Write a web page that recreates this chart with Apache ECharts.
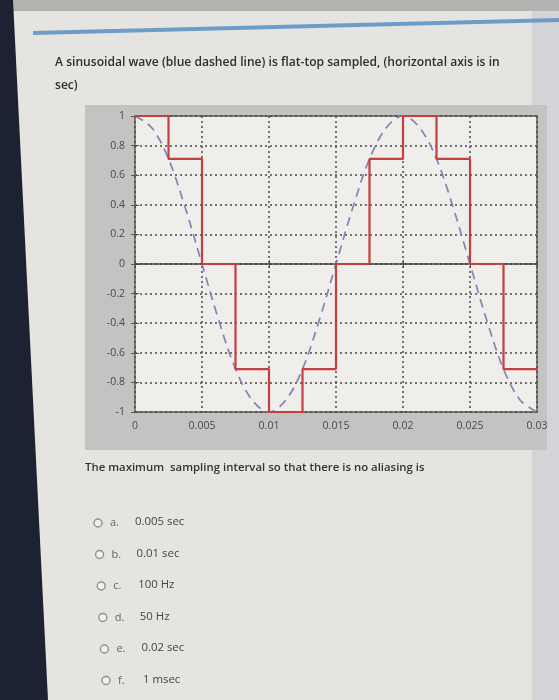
<!DOCTYPE html>
<html>
<head>
<meta charset="utf-8">
<script src="https://cdn.jsdelivr.net/npm/echarts@6/dist/echarts.min.js"></script>
<style>
html,body{margin:0;padding:0;background:#e6e4e1;}
#chart{width:559px;height:700px;}
</style>
</head>
<body>
<div id="chart"></div>
<script>
// ---- data ----
const sampleTimes = [0, 0.0025, 0.005, 0.0075, 0.01, 0.0125, 0.015, 0.0175, 0.02, 0.0225, 0.025, 0.0275, 0.03];
const sampleValues = [1, 0.71, 0, -0.71, -1, -0.71, 0, 0.71, 1, 0.71, 0, -0.71, -0.71];
const waveTimes = [0, 0.00125, 0.0025, 0.00375, 0.005, 0.00625, 0.0075, 0.00875, 0.01, 0.01125, 0.0125, 0.01375, 0.015,
                   0.01625, 0.0175, 0.01875, 0.02, 0.02125, 0.0225, 0.02375, 0.025, 0.02625, 0.0275, 0.02875, 0.03];
const waveValues = [1, 0.92, 0.71, 0.38, 0, -0.38, -0.71, -0.92, -1, -0.92, -0.71, -0.38, 0,
                    0.38, 0.71, 0.92, 1, 0.92, 0.71, 0.38, 0, -0.38, -0.71, -0.92, -1];
const xTicks = ['0', '0.005', '0.01', '0.015', '0.02', '0.025', '0.03'];
const yTicks = ['-1', '-0.8', '-0.6', '-0.4', '-0.2', '0', '0.2', '0.4', '0.6', '0.8', '1'];
const titleLines = ['A sinusoidal wave (blue dashed line) is flat-top sampled, (horizontal axis is in', 'sec)'];
const question = 'The maximum  sampling interval so that there is no aliasing is';
const optionLetters = ['a.', 'b.', 'c.', 'd.', 'e.', 'f.'];
const optionTexts = ['0.005 sec', '0.01 sec', '100 Hz', '50 Hz', '0.02 sec', '1 msec'];

const chart = echarts.init(document.getElementById('chart'), null, {renderer: 'canvas'});
const FONT = '"Open Sans", sans-serif';

const graphics = [
  {type: 'rect', z: -100, shape: {x: 0, y: 0, width: 559, height: 700}, style: {fill: '#e6e4e1'}},
  {type: 'rect', z: -99, shape: {x: 0, y: 0, width: 559, height: 11}, style: {fill: '#b4b3b1'}},
  {type: 'rect', z: -99, shape: {x: 532, y: 11, width: 27, height: 689}, style: {fill: '#d3d4d8'}},
  {type: 'polygon', z: -98, shape: {points: [[0, 0], [13, 0], [48, 700], [0, 700]]}, style: {fill: '#1d2232'}},
  {type: 'line', z: -97, shape: {x1: 33, y1: 33, x2: 559, y2: 20}, style: {stroke: '#6f9cc6', lineWidth: 4}},
  {type: 'rect', z: -90, shape: {x: 85, y: 105, width: 462, height: 345}, style: {fill: '#c4c3c1'}}
];
titleLines.forEach((t, i) => graphics.push({
  type: 'text', z: 10, left: 55, top: 57 + i * 23,
  style: {text: t, fill: '#2e2e2e', font: '600 12.1px ' + FONT}
}));
graphics.push({type: 'text', z: 10, left: 85, top: 462,
  style: {text: question, fill: '#333', font: '600 11.4px ' + FONT}});
optionTexts.forEach((t, i) => {
  const y = 523 + i * 31.5;
  const cx = 98 + i * 1.6;
  graphics.push({type: 'circle', z: 10, shape: {cx: cx, cy: y, r: 4},
    style: {fill: '#f2f1ef', stroke: '#8f8f8f', lineWidth: 1.4}});
  graphics.push({type: 'text', z: 10, x: cx + 12, y: y, style: {text: optionLetters[i], fill: '#666', font: '11px ' + FONT, verticalAlign: 'middle'}});
  graphics.push({type: 'text', z: 10, x: cx + 37, y: y - 1, style: {text: t, fill: '#444', font: '11.4px ' + FONT, verticalAlign: 'middle'}});
});

const dotted = {show: true, lineStyle: {color: '#4a4a4a', type: [2, 3], width: 1.5}};

chart.setOption({
  animation: false,
  graphic: graphics,
  grid: {left: 135, right: 22, top: 116, bottom: 288, show: true, backgroundColor: '#f0eeeb', borderColor: '#555', borderWidth: 1.4},
  xAxis: [{
    type: 'value', min: 0, max: 0.03, interval: 0.005,
    axisLine: {show: false},
    axisTick: {show: true, inside: true, length: 4, lineStyle: {color: '#555'}},
    splitLine: dotted,
    axisLabel: {color: '#4a4a4a', fontSize: 10.5, fontFamily: FONT, margin: 9,
      formatter: v => xTicks[Math.round(v / 0.005)]}
  }, {
    type: 'value', position: 'top', min: 0, max: 0.03, interval: 0.005,
    axisLine: {show: false}, axisLabel: {show: false}, splitLine: {show: false},
    axisTick: {show: true, inside: true, length: 4, lineStyle: {color: '#555'}}
  }],
  yAxis: [{
    type: 'value', min: -1, max: 1, interval: 0.2,
    axisLine: {show: false},
    axisTick: {show: true, inside: true, length: 4, lineStyle: {color: '#555'}},
    splitLine: dotted,
    axisLabel: {color: '#4a4a4a', fontSize: 10.5, fontFamily: FONT, margin: 10,
      formatter: v => yTicks[Math.round((v + 1) / 0.2)]}
  }, {
    type: 'value', position: 'right', min: -1, max: 1, interval: 0.2,
    axisLine: {show: false}, axisLabel: {show: false}, splitLine: {show: false},
    axisTick: {show: true, inside: true, length: 4, lineStyle: {color: '#555'}}
  }],
  series: [{
    name: 'zero', type: 'line', data: [[0, 0], [0.03, 0]], symbol: 'none',
    lineStyle: {color: '#3c3c3c', width: 1.3}, z: 3
  }, {
    name: 'sinusoid', type: 'line', data: waveTimes.map((t, i) => [t, waveValues[i]]),
    symbol: 'none', smooth: 0.35,
    lineStyle: {color: '#7f84b5', width: 1.7, type: [9, 6]}, z: 4
  }, {
    name: 'flat-top', type: 'line', step: 'end', data: sampleTimes.map((t, i) => [t, sampleValues[i]]),
    symbol: 'none',
    lineStyle: {color: '#c4403f', width: 2.2}, z: 5
  }]
});
</script>
</body>
</html>
